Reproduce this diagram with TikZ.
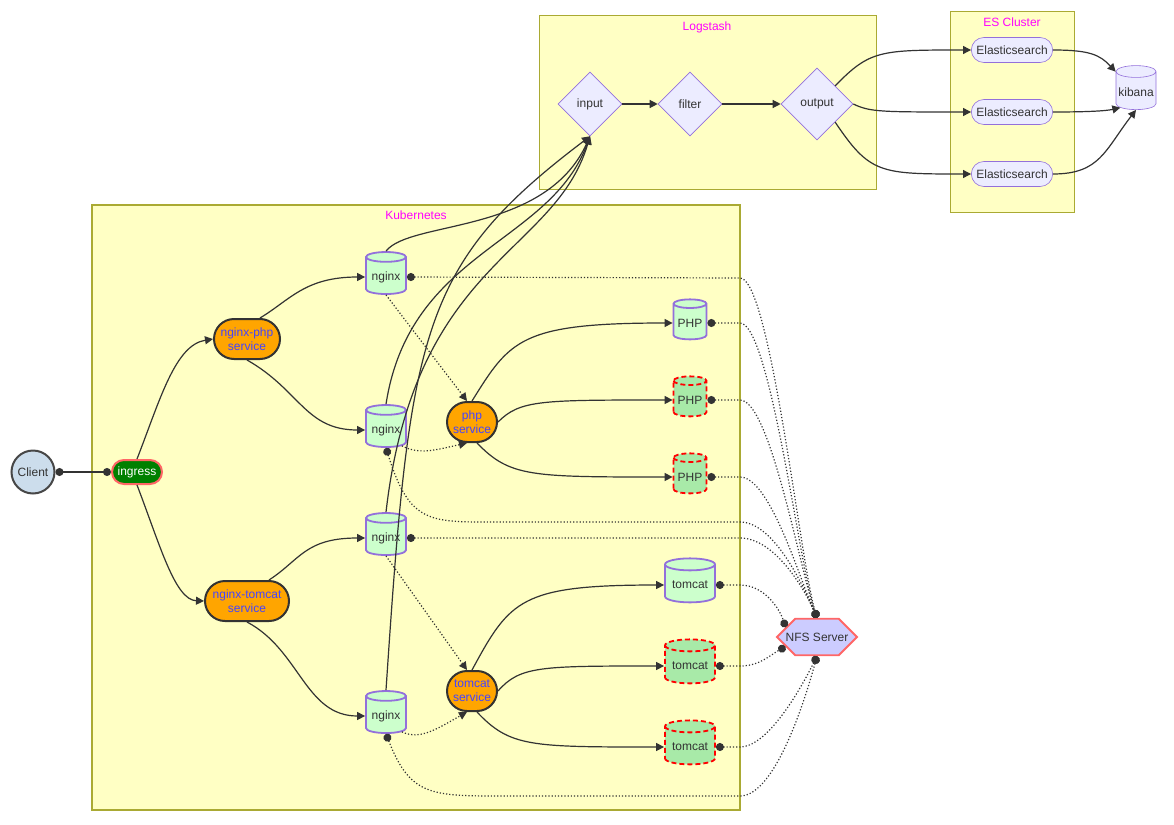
\documentclass[tikz,border=0pt]{standalone}
\usepackage{fontspec}
\setmainfont{Liberation Sans}
\usetikzlibrary{shapes.geometric,shapes.misc,arrows.meta}
\definecolor{clbg}{HTML}{FFFFC4}
\definecolor{clbd}{HTML}{AAAA33}
\definecolor{purp}{HTML}{9370DB}
\definecolor{lav}{HTML}{ECECFF}
\definecolor{pod}{HTML}{CCFFCC}
\definecolor{pod2}{HTML}{A8EAA8}
\definecolor{svc}{HTML}{FFA500}
\definecolor{svct}{HTML}{4444FF}
\definecolor{ln}{HTML}{333333}
\definecolor{mag}{HTML}{FF00FF}
\tikzset{
 every node/.style={font=\fontsize{12}{13}\selectfont, text=ln},
 cluster/.style={fill=clbg, draw=clbd},
 ctitle/.style={text=mag},
 cyl/.style={cylinder, shape border rotate=90, aspect=0.3, draw=purp, line width=1.8pt, fill=pod, minimum width=#1, inner sep=2pt},
 cylb/.style={cyl=#1, fill=pod2, draw=red, dashed, dash pattern=on 5pt off 3pt},
 svcn/.style={rounded rectangle, fill=svc, draw=ln, line width=2pt, text=svct, align=center, minimum height=40pt, inner xsep=4pt, font=\fontsize{12}{14}\selectfont},
 dia/.style={diamond, fill=lav, draw=purp, line width=0.6pt, minimum width=#1, minimum height=#1, inner sep=0pt},
 es/.style={rounded rectangle, fill=lav, draw=purp, line width=0.6pt, minimum width=88pt, minimum height=25pt},
 arr/.style={draw=ln, line width=1.2pt, -{Triangle[length=8pt,width=8pt]}},
 dot/.style={draw=ln, line width=1.2pt, dotted, -{Triangle[length=8pt,width=8pt]}},
 cc/.style={draw=ln, line width=1.2pt, dotted, {Circle[length=8pt]}-{Circle[length=8pt]}},
}
\begin{document}
\begin{tikzpicture}[x=1pt,y=-1pt]
\useasboundingbox (0,0) rectangle (1174,824);
% clusters
\draw[cluster, line width=2.5pt] (92,205) rectangle (740,810);
\node[ctitle] at (416,215) {Kubernetes};
\draw[cluster, line width=1pt] (539,16) rectangle (876,189);
\node[ctitle] at (707,27) {Logstash};
\draw[cluster, line width=1pt] (950,12) rectangle (1074,212);
\node[ctitle] at (1012,22) {ES Cluster};
% nodes
\node[circle, fill={rgb,255:red,204;green,221;blue,236}, draw=ln!90, line width=2pt, minimum size=43pt, inner sep=0pt] (cl) at (33,472) {Client};
\node[rounded rectangle, fill={rgb,255:red,0;green,128;blue,0}, draw={rgb,255:red,255;green,102;blue,102}, line width=2pt, text=white, minimum width=54pt, minimum height=24pt, inner sep=2pt] (ing) at (137,472) {ingress};
\node[svcn, minimum width=74pt] (sp) at (247,339) {nginx-php\\service};
\node[svcn, minimum width=92pt] (st) at (247,601) {nginx-tomcat\\service};
\node[cyl=40pt, minimum height=42pt] (n1) at (386,277) {nginx};
\node[cyl=40pt, minimum height=42pt] (n2) at (386,430) {nginx};
\node[cyl=40pt, minimum height=42pt] (n3) at (386,538) {nginx};
\node[cyl=40pt, minimum height=42pt] (n4) at (386,716) {nginx};
\node[svcn, minimum width=58pt] (php) at (472,422) {php\\service};
\node[svcn, minimum width=58pt] (tom) at (472,691) {tomcat\\service};
\node[cyl=33pt, minimum height=40pt] (p1) at (690,323) {PHP};
\node[cylb=33pt, minimum height=40pt] (p2) at (690,400) {PHP};
\node[cylb=33pt, minimum height=40pt] (p3) at (690,477) {PHP};
\node[cyl=50pt, minimum height=44pt] (t1) at (690,585) {tomcat};
\node[cylb=50pt, minimum height=44pt] (t2) at (690,666) {tomcat};
\node[cylb=50pt, minimum height=44pt] (t3) at (690,747) {tomcat};
\node[chamfered rectangle, chamfered rectangle xsep=13pt, chamfered rectangle ysep=12pt, fill={rgb,255:red,204;green,204;blue,255}, draw={rgb,255:red,255;green,102;blue,102}, line width=1.8pt, minimum width=80pt, minimum height=25pt, inner sep=2pt] (nfs) at (817,637) {NFS Server};
\node[dia=64pt] (in) at (590,104) {input};
\node[dia=64pt] (fi) at (690,104) {filter};
\node[dia=72pt] (out) at (817,104) {output};
\node[es] (e1) at (1012,50) {Elasticsearch};
\node[es] (e2) at (1012,112) {Elasticsearch};
\node[es] (e3) at (1012,174) {Elasticsearch};
\node[cylinder, shape border rotate=90, aspect=0.3, draw=purp, fill=lav, line width=0.6pt, minimum width=40pt, minimum height=44pt, inner sep=2pt] (kb) at (1136,92) {kibana};
% edges
\draw[draw=ln, line width=1.2pt, {Circle[length=8pt]}-{Circle[length=8pt]}] (cl) -- (ing);
\draw[arr] (ing.north) .. controls (160,400) and (175,345) .. (sp.west);
\draw[arr] (ing.south) .. controls (160,545) and (175,600) .. (st.west);
\draw[arr] (sp.north east) .. controls (290,300) and (305,277) .. (n1.west);
\draw[arr] (sp.south) .. controls (300,390) and (305,430) .. (n2.west);
\draw[arr] (st.north east) .. controls (300,560) and (305,538) .. (n3.west);
\draw[arr] (st.south) .. controls (300,650) and (305,716) .. (n4.west);
\draw[dot] (n1.south) -- (php.north west);
\draw[dot] (n2.south east) .. controls (420,455) and (435,450) .. (php.south west);
\draw[dot] (n3.south) -- (tom.north west);
\draw[dot] (n4.south east) .. controls (420,740) and (435,730) .. (tom.south west);
\draw[arr] (php.north) .. controls (510,340) and (520,323) .. (p1.west);
\draw[arr] (php.east) .. controls (520,400) and (540,400) .. (p2.west);
\draw[arr] (php.south east) .. controls (510,477) and (530,477) .. (p3.west);
\draw[arr] (tom.north) .. controls (510,600) and (520,585) .. (t1.west);
\draw[arr] (tom.east) .. controls (520,666) and (540,666) .. (t2.west);
\draw[arr] (tom.south east) .. controls (510,747) and (530,747) .. (t3.west);
% to logstash
\draw[arr] (n1.north) .. controls (410,220) and (545,235) .. (in.south);
\draw[arr] (n2.north) .. controls (410,250) and (550,245) .. (in.south);
\draw[arr] (n3.north) .. controls (415,260) and (555,255) .. (in.south);
\draw[arr] (n4.north) .. controls (410,330) and (420,265) .. (in.south);
\draw[arr] (in) -- (fi);
\draw[arr] (fi) -- (out);
\draw[arr] (out.north east) .. controls (870,50) and (880,50) .. (e1.west);
\draw[arr] (out.east) .. controls (870,112) and (880,112) .. (e2.west);
\draw[arr] (out.south east) .. controls (870,174) and (880,174) .. (e3.west);
\draw[arr] (e1.east) .. controls (1090,50) and (1100,55) .. (kb.north west);
\draw[arr] (e2.east) .. controls (1100,112) and (1110,110) .. (kb.south west);
\draw[arr] (e3.east) .. controls (1100,174) and (1105,150) .. (kb.south);
% NFS
\draw[cc] (n1.east) -- (740,278) .. controls (770,278) and (800,560) .. (nfs.north);
\draw[cc] (n2.south) .. controls (410,525) and (430,522) .. (500,522) -- (740,522) .. controls (775,522) and (805,590) .. (nfs.north);
\draw[cc] (n3.east) -- (740,538) .. controls (775,538) and (805,590) .. (nfs.north);
\draw[cc] (n4.south) .. controls (410,795) and (430,796) .. (500,796) -- (740,796) .. controls (775,796) and (805,700) .. (nfs.south);
\draw[cc] (p1.east) -- (740,323) .. controls (770,323) and (800,570) .. (nfs.north);
\draw[cc] (p2.east) -- (740,400) .. controls (770,400) and (800,570) .. (nfs.north);
\draw[cc] (p3.east) -- (740,477) .. controls (770,477) and (800,580) .. (nfs.north);
\draw[cc] (t1.east) -- (740,585) .. controls (765,585) and (780,610) .. (nfs.north west);
\draw[cc] (t2.east) -- (740,666) .. controls (760,666) and (770,655) .. (nfs.south west);
\draw[cc] (t3.east) -- (740,747) .. controls (765,747) and (795,700) .. (nfs.south);
\end{tikzpicture}
\end{document}
